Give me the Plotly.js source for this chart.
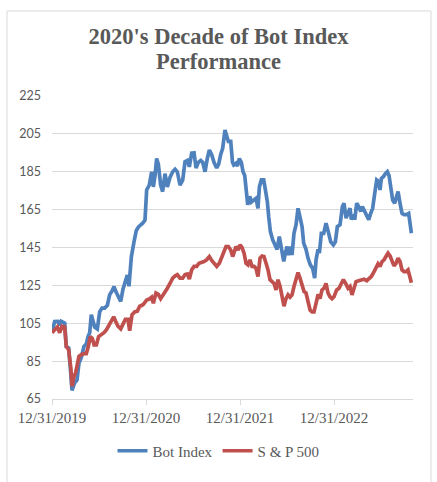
<!DOCTYPE html>
<html>
<head>
<meta charset="utf-8">
<script src="https://cdn.plot.ly/plotly-3.0.1.min.js"></script>
<style>html,body{margin:0;padding:0;background:#fff;}#chart{width:437px;height:482px;}</style>
</head>
<body>
<div id="chart"></div>
<script>
// Years elapsed since 12/31/2019 and index values
const botYears = [0,0.028,0.064,0.082,0.099,0.135,0.152,0.177,0.199,0.213,0.241,0.266,0.287,0.312,0.340,0.365,0.383,0.401,0.418,0.436,0.454,0.482,0.507,0.532,0.560,0.589,0.613,0.638,0.660,0.677,0.702,0.731,0.755,0.780,0.801,0.819,0.844,0.872,0.897,0.922,0.950,0.965,0.989,1.007,1.035,1.060,1.078,1.096,1.113,1.131,1.156,1.177,1.202,1.227,1.255,1.284,1.309,1.333,1.362,1.390,1.415,1.440,1.461,1.486,1.511,1.532,1.557,1.582,1.603,1.628,1.652,1.674,1.699,1.723,1.752,1.773,1.794,1.816,1.840,1.858,1.876,1.901,1.920,1.933,1.957,1.972,1.993,2.014,2.032,2.050,2.064,2.082,2.103,2.121,2.145,2.170,2.191,2.206,2.227,2.252,2.270,2.291,2.305,2.323,2.348,2.376,2.394,2.418,2.440,2.465,2.482,2.500,2.518,2.539,2.553,2.574,2.596,2.617,2.638,2.660,2.677,2.702,2.723,2.748,2.773,2.794,2.809,2.830,2.844,2.865,2.890,2.915,2.943,2.965,2.993,3.014,3.035,3.064,3.089,3.106,3.128,3.149,3.170,3.184,3.206,3.220,3.241,3.262,3.284,3.301,3.326,3.348,3.369,3.390,3.411,3.433,3.454,3.472,3.489,3.504,3.525,3.550,3.567,3.585,3.603,3.624,3.645,3.667,3.681,3.702,3.723,3.745,3.773,3.794,3.809,3.823];
const botIndex = [100,105.9,106,104,106,105,92.7,92,78.8,69.5,73.5,75,84,87,92.7,94,98,100,109.5,105,103,102,111,113,113,114.5,120,122,124.4,122,119,116.5,123,128,130.5,124.5,140,148,154,156,157,157.8,159.5,175.4,178,185,177,183,192,189,178,174.5,184,177,182,185,186.3,185,178,180.5,190.3,191,187.6,194.8,195,187,190,191,190,185,192,196.5,194,190,187,189,194,197.5,207,203.5,201,201,190,188.6,189.5,188,192,190,185,183,175.4,167.5,172,169,170,171,165.7,177,180.7,180.7,175.4,169,161.3,153.4,149,145.5,144,150.8,145.5,137.6,142,145.5,141,145.5,141,152.5,157,165.7,161,156,147.3,144,139.4,135.8,134,128.8,138.5,144,142,152.5,152.5,157.8,152.5,148,146.4,148,156,157,166.6,168.4,160.5,163,165.7,159.7,162.4,159.7,168.4,166.6,164,166.6,164,162.4,159.7,163,165.7,173.7,180.7,180,175.4,181.5,182.4,184.2,185,183,178,170,168.4,172,174.5,168.4,163,162.4,162.4,163,157.8,152.5];

const spYears = [0,0.028,0.057,0.082,0.106,0.135,0.152,0.177,0.199,0.213,0.234,0.252,0.270,0.287,0.312,0.340,0.365,0.383,0.408,0.429,0.447,0.472,0.496,0.525,0.553,0.578,0.603,0.631,0.656,0.677,0.702,0.731,0.755,0.780,0.809,0.826,0.851,0.879,0.908,0.933,0.957,0.972,1.007,1.035,1.060,1.078,1.106,1.131,1.156,1.177,1.202,1.227,1.255,1.284,1.309,1.333,1.362,1.390,1.415,1.440,1.461,1.486,1.511,1.539,1.564,1.592,1.617,1.645,1.674,1.699,1.723,1.752,1.780,1.805,1.830,1.851,1.876,1.901,1.922,1.936,1.957,1.979,2.000,2.021,2.043,2.064,2.085,2.106,2.128,2.149,2.170,2.191,2.213,2.234,2.255,2.277,2.298,2.319,2.340,2.362,2.383,2.404,2.426,2.447,2.468,2.489,2.511,2.532,2.553,2.574,2.596,2.617,2.638,2.660,2.681,2.702,2.723,2.745,2.766,2.787,2.809,2.830,2.851,2.872,2.894,2.915,2.936,2.957,2.979,3.000,3.028,3.053,3.078,3.099,3.124,3.149,3.170,3.191,3.213,3.234,3.262,3.291,3.319,3.348,3.372,3.397,3.426,3.447,3.468,3.489,3.511,3.532,3.553,3.574,3.596,3.617,3.638,3.660,3.681,3.702,3.723,3.745,3.766,3.787,3.809,3.823];
const sp500 = [100,101.5,103,100,103.4,103,92.7,91,82,71.7,77,79,84,87.5,88.4,89,89,92,98,97,93.6,93.6,98,99,100,101.5,104,106,108.4,106,103.4,102,104,107,107,101,109.5,111,111.4,114,114.5,115,117.3,117.8,118.8,115.6,121,120.3,118,119.4,121.7,123.5,126,128.8,130,130.7,128.8,128.8,130.7,131,128.3,133.2,135,135,136.7,137,137.6,138.5,140.2,138.2,137,135,136.7,140.2,143.7,145.5,145.5,143.7,140.2,142.8,145.5,143.7,146.4,145,142,136.7,135.8,138.5,135,135,134,129.7,139.4,140.5,140.2,136.7,133.2,128,127,126,122.6,128,124.4,119,114,118,120,118.8,120,124.4,128,131.8,128.8,125.3,121.7,121,115.6,112,111,111,115.6,120.3,118,122.6,123.5,126,121,119,118,119,122.6,123.5,126,128,126,123.5,124.4,120,123.5,127,127.5,128,128.3,127.5,128.8,129.7,132.3,135,136.4,135,137.6,138.5,140.2,142,140.5,137.6,135.3,136.7,139.4,137.6,133.2,132.3,132.3,133.2,129.7,126.4];

const seriesNames = ["Bot Index", "S & P 500"];
const xTickYears = [0, 1, 2, 3];
const xTickLabels = ["12/31/2019", "12/31/2020", "12/31/2021", "12/31/2022"];
const yTickValues = [65, 85, 105, 125, 145, 165, 185, 205, 225];
const titleLines = ["2020's Decade of Bot Index", "Performance"];

const serif = "'Liberation Serif', 'DejaVu Serif', serif";
const grey = "#595959";
const titleFont = {family: serif, size: 22.5, color: grey, weight: "bold"};

const traces = [
  {x: botYears, y: botIndex, name: seriesNames[0], type: "scatter", mode: "lines",
   line: {color: "#4f81bd", width: 3.7}},
  {x: spYears, y: sp500, name: seriesNames[1], type: "scatter", mode: "lines",
   line: {color: "#c0504d", width: 3.7}}
];

const layout = {
  width: 437, height: 482,
  margin: {l: 52, r: 24, t: 96, b: 83},
  paper_bgcolor: "#fff", plot_bgcolor: "#fff",
  title: {text: titleLines[0], font: titleFont,
          x: 0.5, xref: "container", xanchor: "center", y: 1 - 36/482, yref: "container", yanchor: "middle"},
  annotations: [
    {text: titleLines[1], font: titleFont, showarrow: false, xref: "paper", yref: "paper",
     x: (218.5-52)/361, xanchor: "center", y: (399-62)/303, yanchor: "middle", borderpad: 0}
  ],
  xaxis: {range: [0, 3.84], tickmode: "array", tickvals: xTickYears, ticktext: xTickLabels,
          showgrid: false, zeroline: false, showline: true, linecolor: "#d9d9d9", linewidth: 1,
          ticks: "outside", ticklen: 5, tickcolor: "#d9d9d9",
          tickfont: {family: serif, size: 15, color: grey}, fixedrange: true},
  yaxis: {range: [65, 225], tickmode: "array", tickvals: yTickValues,
          showgrid: true, gridcolor: "#d9d9d9", gridwidth: 1, zeroline: false, showline: false,
          ticks: "", ticklabelstandoff: 10,
          tickfont: {family: "Lato, 'Liberation Sans', sans-serif", size: 12.5, color: grey}, fixedrange: true},
  showlegend: true,
  legend: {orientation: "h", x: 0.5, xref: "container", xanchor: "center",
           y: 1 - 451/482, yref: "container", yanchor: "middle",
           font: {family: serif, size: 15, color: grey}, itemwidth: 30, bgcolor: "rgba(0,0,0,0)"},
  shapes: [
    {type: "rect", xref: "paper", yref: "paper", x0: (7-52)/361, x1: (431-52)/361,
     y0: (399-495)/303, y1: (399-11)/303, line: {color: "#d9d9d9", width: 1}, fillcolor: "rgba(0,0,0,0)", layer: "below"}
  ]
};

Plotly.newPlot("chart", traces, layout, {displayModeBar: false, staticPlot: true});
</script>
</body>
</html>
